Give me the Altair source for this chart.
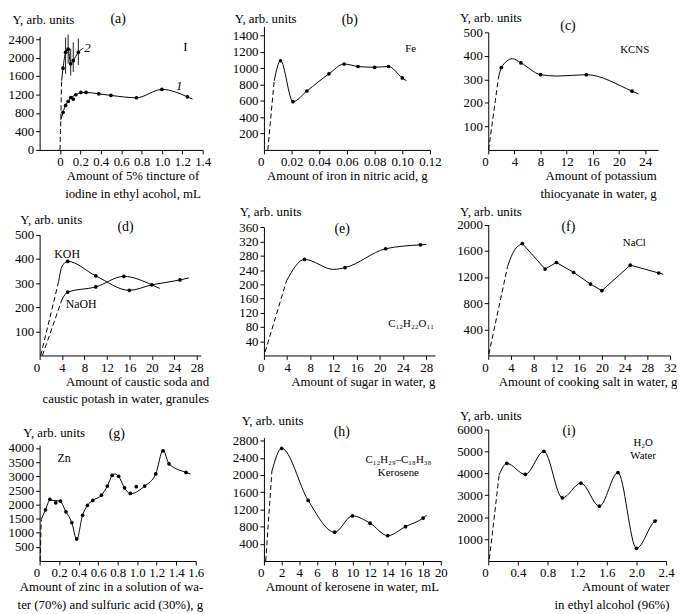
import altair as alt
import pandas as pd

FONT = "Liberation Serif"
H = 130   # row height of every plot area
W = 190   # column slot width

# ---------------- (a) iodine tincture ----------------
a1_x = [0.03, 0.055, 0.08, 0.105, 0.13, 0.155, 0.205, 0.255, 0.38, 0.5, 0.75, 1.0, 1.25]
a1_y = [815, 965, 1050, 1135, 1100, 1195, 1245, 1245, 1215, 1180, 1130, 1310, 1150]
a1_line_x = [0.008, 0.03, 0.055, 0.08, 0.105, 0.155, 0.205, 0.255, 0.38, 0.5, 0.75, 1.0, 1.25, 1.3]
a1_line_y = [650, 815, 965, 1050, 1120, 1195, 1240, 1245, 1215, 1180, 1130, 1310, 1150, 1100]
a2_x = [0.03, 0.055, 0.08, 0.105, 0.13, 0.18]
a2_y = [1770, 2115, 2180, 1865, 1935, 2115]
a2_err_x = [0.055, 0.08, 0.105, 0.13, 0.18]
a2_err_lo = [1650, 1870, 1610, 1690, 1840]
a2_err_hi = [2430, 2500, 2190, 2330, 2410]
a2_line_x = [0.016, 0.03, 0.055, 0.08, 0.105, 0.13, 0.18, 0.23]
a2_line_y = [1500, 1770, 2115, 2180, 1865, 1935, 2115, 2205]
a_dash_x = [0, 0.004, 0.008, 0.012, 0.016]
a_dash_y = [0, 380, 650, 1100, 1500]
a_xticks = [0, 0.2, 0.4, 0.6, 0.8, 1.0, 1.2, 1.4]
a_yticks = [0, 400, 800, 1200, 1600, 2000, 2400]

# ---------------- (b) iron ----------------
b_x = [0.012, 0.021, 0.031, 0.047, 0.058, 0.068, 0.08, 0.09, 0.1]
b_y = [1090, 590, 720, 930, 1050, 1020, 1010, 1020, 880]
b_line_x = [0.0074, 0.012, 0.021, 0.031, 0.047, 0.058, 0.068, 0.08, 0.09, 0.1, 0.103]
b_line_y = [845, 1090, 590, 720, 930, 1050, 1020, 1010, 1020, 880, 845]
b_dash_x = [0.0028, 0.0074]
b_dash_y = [0, 845]
b_xticks = [0, 0.02, 0.04, 0.06, 0.08, 0.10, 0.12]
b_yticks = [200, 400, 600, 800, 1000, 1200, 1400]

# ---------------- (c) KCNS ----------------
c_x = [2, 5, 8, 15, 22]
c_y = [350, 370, 320, 320, 250]
c_line_x = [1.55, 2, 3.7, 5, 8, 10.5, 15, 22, 23]
c_line_y = [305, 350, 388, 370, 320, 314, 320, 250, 238]
c_dash_x = [0.05, 1.55]
c_dash_y = [0, 305]
c_xticks = [0, 4, 8, 12, 16, 20, 24]
c_yticks = [100, 200, 300, 400, 500]

# ---------------- (d) KOH / NaOH ----------------
koh_x = [5, 10, 16, 20, 25]
koh_y = [390, 330, 270, 293, 313]
koh_line_x = [3.4, 4, 5, 10, 16, 20, 25, 26.6]
koh_line_y = [308, 370, 390, 330, 270, 293, 313, 322]
koh_dash_x = [0.2, 3.4]
koh_dash_y = [0, 308]
naoh_x = [5, 10, 15]
naoh_y = [263, 284, 328]
naoh_line_x = [4, 5, 10, 15, 20, 21.4]
naoh_line_y = [233, 263, 284, 328, 293, 278]
naoh_dash_x = [0.5, 4]
naoh_dash_y = [0, 233]
d_xticks = [0, 4, 8, 12, 16, 20, 24, 28]
d_yticks = [100, 200, 300, 400, 500]

# ---------------- (e) sugar ----------------
e_x = [7, 14, 21, 27]
e_y = [270, 247, 300, 311]
e_line_x = [3.9, 7, 12, 14, 21, 27, 28]
e_line_y = [210, 270, 242, 247, 300, 311, 312]
e_dash_x = [0.2, 3.9]
e_dash_y = [10, 210]
e_xticks = [0, 4, 8, 12, 16, 20, 24, 28]
e_yticks = [40, 80, 120, 160, 200, 240, 280, 320, 360]

# ---------------- (f) NaCl ----------------
f_x = [6, 10, 12, 15, 18, 20, 25, 30]
f_y = [1710, 1320, 1420, 1270, 1090, 990, 1380, 1260]
f_rise_x = [3.4, 4.3, 6]
f_rise_y = [1360, 1560, 1710]
f_line_x = [6, 10, 12, 15, 18, 20, 25, 30, 30.8]
f_line_y = [1710, 1320, 1420, 1270, 1090, 990, 1380, 1260, 1240]
f_dash_x = [0.1, 3.4]
f_dash_y = [20, 1360]
f_xticks = [0, 4, 8, 12, 16, 20, 24, 28, 32]
f_yticks = [400, 800, 1200, 1600, 2000]

# ---------------- (g) zinc ----------------
g_x = [0.06, 0.105, 0.165, 0.213, 0.27, 0.33, 0.38, 0.44, 0.49, 0.545, 0.633, 0.694,
       0.744, 0.81, 0.87, 0.93, 0.99, 1.076, 1.19, 1.265, 1.326, 1.5]
g_y = [1810, 2180, 2060, 2120, 1740, 1360, 780, 1620, 1970, 2145, 2330, 2650,
       3030, 3000, 2590, 2390, 2630, 2650, 3080, 3900, 3440, 3135]
g_line_x = [0.017, 0.06, 0.105, 0.165, 0.213, 0.27, 0.33, 0.38, 0.44, 0.49, 0.545, 0.633,
            0.694, 0.744, 0.77, 0.81, 0.87, 0.93, 1.076, 1.19, 1.265, 1.326, 1.5, 1.546]
g_line_y = [1480, 1810, 2150, 2140, 2100, 1740, 1360, 760, 1620, 1970, 2145, 2330,
            2650, 3030, 3080, 2990, 2590, 2380, 2650, 3080, 3920, 3440, 3135, 3077]
g_dash_x = [0.005, 0.017]
g_dash_y = [0, 1480]
g_xticks = [0, 0.2, 0.4, 0.6, 0.8, 1.0, 1.2, 1.4, 1.6]
g_yticks = [500, 1000, 1500, 2000, 2500, 3000, 3500, 4000]

# ---------------- (h) kerosene ----------------
h_x = [2, 5, 8, 10, 12, 14, 16, 18]
h_y = [2620, 1410, 670, 1050, 880, 590, 800, 1000]
h_line_x = [0.9, 2, 5, 8, 10, 12, 14, 16, 18, 18.4]
h_line_y = [2090, 2620, 1410, 670, 1050, 880, 590, 800, 1000, 1066]
h_dash_x = [0.2, 0.9]
h_dash_y = [0, 2090]
h_xticks = [0, 2, 4, 6, 8, 10, 12, 14, 16, 18, 20]
h_yticks = [400, 800, 1200, 1600, 2000, 2400, 2800]

# ---------------- (i) water ----------------
i_x = [0.25, 0.5, 0.75, 1.0, 1.25, 1.5, 1.75, 2.0, 2.25]
i_y = [4450, 3950, 5000, 2880, 3550, 2500, 4030, 580, 1820]
i_line_x = [0.147, 0.25, 0.5, 0.75, 1.0, 1.25, 1.5, 1.75, 2.0, 2.25, 2.28]
i_line_y = [3930, 4450, 3950, 5000, 2880, 3550, 2500, 4030, 580, 1820, 1867]
i_dash_x = [0.015, 0.147]
i_dash_y = [90, 3930]
i_xticks = [0, 0.4, 0.8, 1.2, 1.6, 2.0, 2.4]
i_yticks = [1000, 2000, 3000, 4000, 5000, 6000]

ZERO_LEFT = {"condition": {"test": "datum.value === 0", "value": "right"}, "value": "center"}


def enc(cfg):
    # x/y encodings shared by every layer of a panel
    def x_enc(field='x'):
        return alt.X(f'{field}:Q',
                     scale=alt.Scale(domain=cfg['xdom'], range=[0, cfg['xw']], nice=False, zero=False),
                     axis=alt.Axis(values=cfg['xticks'], labelExpr=cfg['xlab'], labelAlign=cfg['xalign'],
                                   title=cfg['xtitle'], titleX=cfg['xtx'], titleY=30, titleAlign=cfg['xta'],
                                   titleBaseline='alphabetic', titleLineHeight=18,
                                   labelOverlap=False, labelFlush=False))

    def y_enc(field='y'):
        return alt.Y(f'{field}:Q',
                     scale=alt.Scale(domain=[0, cfg['ytop']], range=[H, H - cfg['ytop'] * cfg['ppu']],
                                     nice=False, zero=False),
                     axis=alt.Axis(values=cfg['yticks'], format='d', title='Y, arb. units', titleAngle=0,
                                   titleAlign='left', titleBaseline='alphabetic',
                                   titleX=cfg['ytx'], titleY=cfg['yty'], labelOverlap=False, labelFlush=False))
    return x_enc, y_enc


def panel(cfg, lines, dots, texts, bars=None):
    x_enc, y_enc = enc(cfg)
    layers = []
    for xs, ys, dashed, interp in lines:
        style = dict(color='black', strokeWidth=1, interpolate=interp)
        if dashed:
            style['strokeDash'] = [5, 3]
        layers.append(alt.Chart(pd.DataFrame({'x': xs, 'y': ys})).mark_line(**style)
                      .encode(x=x_enc(), y=y_enc()))
    if bars:
        bx, lo, hi = bars
        layers.append(alt.Chart(pd.DataFrame({'x': bx, 'y': lo, 'y2': hi}))
                      .mark_rule(color='black', strokeWidth=0.9)
                      .encode(x=x_enc(), y=y_enc(), y2='y2:Q'))
    for xs, ys in dots:
        layers.append(alt.Chart(pd.DataFrame({'x': xs, 'y': ys}))
                      .mark_circle(color='black', size=14, opacity=1)
                      .encode(x=x_enc(), y=y_enc()))
    for x, y, label, size, style in texts:
        layers.append(alt.Chart(pd.DataFrame({'x': [x], 'y': [y], 't': [label]}))
                      .mark_text(font=FONT, fontSize=size, fontStyle=style, color='black',
                                 align='center', baseline='middle')
                      .encode(x=x_enc(), y=y_enc(), text='t:N'))
    return alt.layer(*layers).properties(width=W, height=H)


def fmt(d):
    return f"datum.value === 0 ? '0' : format(datum.value, '{d}')"


pa = panel(dict(xdom=[-0.2, 1.4], xw=165, ytop=2460, ppu=0.04675, xticks=a_xticks, yticks=a_yticks,
                xlab=fmt('.1f'), xalign='center', xtitle=["Amount of 5% tincture of", "iodine in ethyl acohol, mL"],
                xtx=94, xta='center', ytx=-28, yty=2),
           [(a_dash_x, a_dash_y, True, 'monotone'), (a1_line_x, a1_line_y, False, 'monotone'),
            (a2_line_x, a2_line_y, False, 'monotone')],
           [(a1_x, a1_y), (a2_x, a2_y)],
           [(0.57, 2824, "(a)", 14, 'normal'), (1.23, 2225, "I", 13, 'normal'),
            (1.17, 1390, "1", 13, 'italic'), (0.27, 2200, "2", 13, 'italic')],
           bars=(a2_err_x, a2_err_lo, a2_err_hi))

pb = panel(dict(xdom=[0, 0.12], xw=168, ytop=1510, ppu=0.0828, xticks=b_xticks, yticks=b_yticks,
                xlab=fmt('.2f'), xalign=ZERO_LEFT, xtitle="Amount of iron in nitric acid, g",
                xtx=84, xta='center', ytx=-30, yty=1),
           [(b_dash_x, b_dash_y, True, 'linear'), (b_line_x, b_line_y, False, 'monotone')],
           [(b_x, b_y)],
           [(0.062, 1590, "(b)", 14, 'normal'), (0.106, 1228, "Fe", 11, 'normal')])

pc = panel(dict(xdom=[0, 26], xw=172, ytop=500, ppu=0.238, xticks=c_xticks, yticks=c_yticks,
                xlab=fmt('d'), xalign=ZERO_LEFT, xtitle=["Amount of potassium", "thiocyanate in water, g"],
                xtx=170, xta='right', ytx=-29, yty=0),
           [(c_dash_x, c_dash_y, True, 'linear'), (c_line_x, c_line_y, False, 'monotone')],
           [(c_x, c_y)],
           [(12.2, 528, "(c)", 14, 'normal'), (22.4, 423, "KCNS", 11, 'normal')])

pd_ = panel(dict(xdom=[0, 28.7], xw=163, ytop=500, ppu=0.2441, xticks=d_xticks, yticks=d_yticks,
                 xlab=fmt('d'), xalign=ZERO_LEFT,
                 xtitle=["Amount of caustic soda and", "caustic potash in water, granules"],
                 xtx=171, xta='right', ytx=-20, yty=-4),
            [(koh_dash_x, koh_dash_y, True, 'linear'), (koh_line_x, koh_line_y, False, 'monotone'),
             (naoh_dash_x, naoh_dash_y, True, 'linear'), (naoh_line_x, naoh_line_y, False, 'monotone')],
            [(koh_x, koh_y), (naoh_x, naoh_y)],
            [(15.3, 532, "(d)", 14, 'normal'), (4.9, 422, "KOH", 12, 'normal'),
             (7.4, 215, "NaOH", 12, 'normal')])

pe = panel(dict(xdom=[0, 29.5], xw=173, ytop=360, ppu=0.36, xticks=e_xticks, yticks=e_yticks,
                xlab=fmt('d'), xalign=ZERO_LEFT, xtitle="Amount of sugar in water, g",
                xtx=173, xta='right', ytx=-25, yty=-12),
           [(e_dash_x, e_dash_y, True, 'linear'), (e_line_x, e_line_y, False, 'monotone')],
           [(e_x, e_y)],
           [(13.5, 355, "(e)", 14, 'normal'), (25.4, 89, "C₁₂H₂₂O₁₁", 11, 'normal')])

pf = panel(dict(xdom=[0, 32], xw=184, ytop=2000, ppu=0.06625, xticks=f_xticks, yticks=f_yticks,
                xlab=fmt('d'), xalign=ZERO_LEFT, xtitle="Amount of cooking salt in water, g",
                xtx=191, xta='right', ytx=-29, yty=-12),
           [(f_dash_x, f_dash_y, True, 'linear'), (f_rise_x, f_rise_y, False, 'monotone'),
            (f_line_x, f_line_y, False, 'linear')],
           [(f_x, f_y)],
           [(14.1, 1955, "(f)", 14, 'normal'), (25.7, 1713, "NaCl", 11, 'normal')])

pg = panel(dict(xdom=[0, 1.6], xw=158, ytop=4100, ppu=0.0286, xticks=g_xticks, yticks=g_yticks,
                xlab=fmt('.1f'), xalign=ZERO_LEFT,
                xtitle=["Amount of zinc in a solution of wa-", "ter (70%) and sulfuric acid (30%), g"],
                xtx=165, xta='right', ytx=-17, yty=4),
           [(g_dash_x, g_dash_y, True, 'linear'), (g_line_x, g_line_y, False, 'monotone')],
           [(g_x, g_y)],
           [(0.79, 4510, "(g)", 14, 'normal'), (0.25, 3636, "Zn", 12, 'normal')])

ph = panel(dict(xdom=[0, 20], xw=179, ytop=2870, ppu=0.0435, xticks=h_xticks, yticks=h_yticks,
                xlab=fmt('d'), xalign=ZERO_LEFT, xtitle="Amount of kerosene in water, mL",
                xtx=89, xta='center', ytx=-23, yty=-8),
           [(h_dash_x, h_dash_y, True, 'linear'), (h_line_x, h_line_y, False, 'monotone')],
           [(h_x, h_y)],
           [(8.8, 2990, "(h)", 14, 'normal'), (15.2, 2345, "C₁₂H₂₉–C₁₈H₃₈", 11, 'normal'),
            (15.2, 2046, "Kerosene", 11, 'normal')])

pi = panel(dict(xdom=[0, 2.4], xw=180, ytop=6000, ppu=0.0222, xticks=i_xticks, yticks=i_yticks,
                xlab=fmt('.1f'), xalign=ZERO_LEFT, xtitle=["Amount of water", "in ethyl alcohol (96%)"],
                xtx=183, xta='right', ytx=-29, yty=-13),
           [(i_dash_x, i_dash_y, True, 'linear'), (i_line_x, i_line_y, False, 'monotone')],
           [(i_x, i_y)],
           [(1.09, 5945, "(i)", 14, 'normal'), (2.09, 5360, "H₂O", 11, 'normal'),
            (2.09, 4775, "Water", 11, 'normal')])

chart = (alt.concat(pa, pb, pc, pd_, pe, pf, pg, ph, pi, columns=3,
                    spacing={"row": 78, "column": 37}, bounds='flush')
         .properties(padding=0, background='white')
         .configure_view(stroke=None)
         .configure_axis(domainColor='black', tickColor='black', labelColor='black', titleColor='black',
                         labelFont=FONT, titleFont=FONT, labelFontSize=13, titleFontSize=13,
                         titleFontWeight='normal', labelPadding=2, tickSize=4, grid=False))

chart.save("out.html", embed_options={"renderer": "svg", "actions": False})
